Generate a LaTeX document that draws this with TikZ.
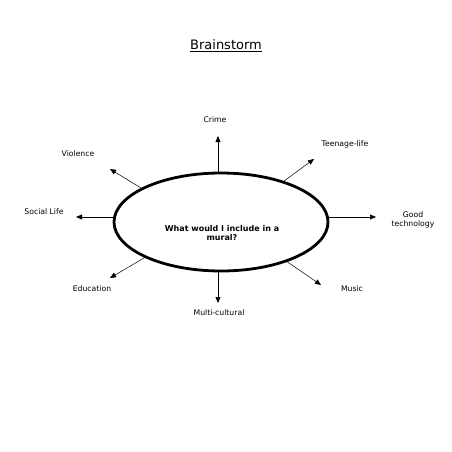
\documentclass[tikz,border=0pt]{standalone}
\usepackage{fontspec}
\setmainfont{DejaVu Sans}
\usepackage{tikz}
\usetikzlibrary{arrows.meta, positioning, shapes.geometric}

\begin{document}
\begin{tikzpicture}[
			x=1pt, y=-1pt,
			idea/.style={ellipse, draw, line width=2.8pt, minimum width=214pt, minimum height=98pt, inner sep=0pt},
			question/.style={align=center, font=\fontsize{8}{9.5}\selectfont\bfseries},
			topic/.style={align=center, font=\fontsize{7.7}{8.5}\selectfont},
			spoke/.style={-{Triangle[length=6pt, width=5pt]}, line width=0.5pt}
		]
		\useasboundingbox (0,0) rectangle (452,452);
		
		% Title
		\node[font=\fontsize{13}{15}\selectfont] (title) at (226,46) {\underline{Brainstorm}};
		
		% Centre ellipse
		\node[idea] (idea) at (221,222) {};
		\node[question] (quest) at (222,233) {What would I include in a\\mural?};
		
		% Topics
		\node[topic] (crime) at (215,120) {Crime};
		\node[topic] (teen) at (345,144) {Teenage-life};
		\node[topic] (tech) at (413,220) {Good\\technology};
		\node[topic] (music) at (352,289) {Music};
		\node[topic] (multi) at (219,313) {Multi-cultural};
		\node[topic] (edu) at (92,289) {Education};
		\node[topic] (social) at (44,212) {Social Life};
		\node[topic] (violence) at (78,154) {Violence};
		
		% Arrow tips
		\coordinate (crimetip) at (218,136);
		\coordinate (teentip) at (314,159);
		\coordinate (techtip) at (376,217);
		\coordinate (musictip) at (321,285);
		\coordinate (multitip) at (218,303);
		\coordinate (edutip) at (110,278);
		\coordinate (socialtip) at (76,217);
		\coordinate (violencetip) at (110,169);
		
		% Arrows
		\draw[spoke] ([xshift=-3pt]idea.north) -- (crimetip);
		\draw[spoke] (idea.33) -- (teentip);
		\draw[spoke] ([yshift=5pt]idea.east) -- (techtip);
		\draw[spoke] (idea.-31) -- (musictip);
		\draw[spoke] ([xshift=-3pt]idea.south) -- (multitip);
		\draw[spoke] (idea.205) -- (edutip);
		\draw[spoke] ([yshift=5pt]idea.west) -- (socialtip);
		\draw[spoke] (idea.157) -- (violencetip);
		\end{tikzpicture}
\end{document}
